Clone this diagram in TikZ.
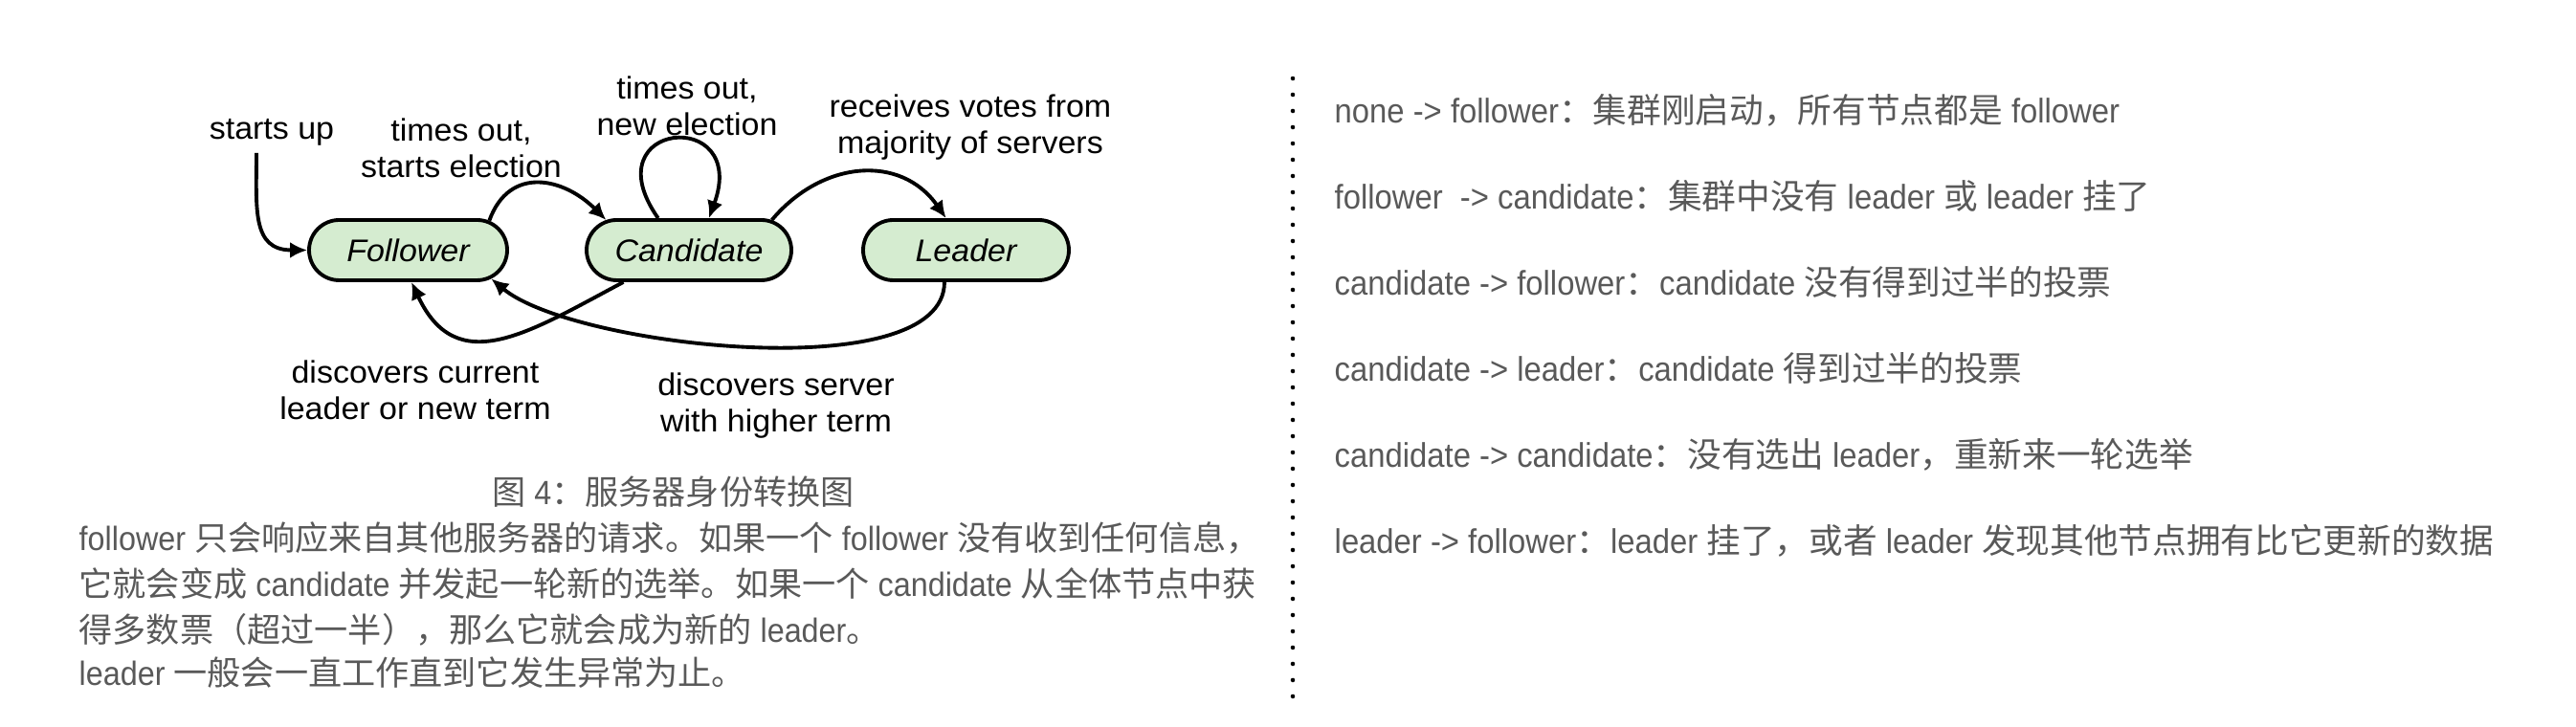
\documentclass[tikz,border=0pt]{standalone}
\usepackage{fontspec}
\setmainfont{Liberation Sans}
\newfontfamily\cjk{Noto Sans CJK SC}
\newfontfamily\diagfont[FakeStretch=1.04]{Liberation Sans}
\newfontfamily\greyfont[FakeStretch=0.92]{Liberation Sans}
\newcommand\zh[1]{{\cjk #1}}
\usetikzlibrary{arrows.meta,shapes.misc}
\definecolor{stategreen}{RGB}{213,236,208}
\definecolor{textgrey}{RGB}{89,89,89}

\begin{document}
\begin{tikzpicture}[
    srv/.style={rounded rectangle, draw, line width=1.1pt, fill=stategreen, minimum height=0.63cm, minimum width=#1, inner sep=0pt, font=\diagfont\itshape\fontsize{9.3}{10.8}\selectfont},
    lbl/.style={align=center, inner sep=0pt, font=\diagfont\fontsize{9.3}{10.8}\selectfont},
    arr/.style={-{Latex[length=0.18cm,width=0.17cm]}, line width=1.1pt},
    para/.style={anchor=base west, inner sep=0pt, text=textgrey, font=\greyfont\fontsize{10}{13}\selectfont},
    rulelist/.style={anchor=base west, inner sep=0pt, text=textgrey, font=\greyfont\fontsize{10.15}{13}\selectfont}]
    \useasboundingbox (0,0) rectangle (26.92,7.6);

    \node[srv=2.07cm] (follower) at (4.265,4.985) {Follower};
    \node[srv=2.14cm] (candidate) at (7.2,4.985) {Candidate};
    \node[srv=2.15cm] (leader) at (10.095,4.985) {Leader};

    \node[lbl] (startsup) at (2.84,6.215) {starts up};
    \node[lbl] (timeout) at (4.82,6.05) {times out,\\starts election};
    \node[lbl] (reelect) at (7.18,6.49) {times out,\\new election};
    \node[lbl] (votes) at (10.14,6.27) {receives votes from\\majority of servers};
    \node[lbl] (stepdown) at (4.34,3.52) {discovers current\\leader or new term};
    \node[lbl] (higher) at (8.11,3.36) {discovers server\\with higher term};

    \coordinate (boot) at (2.68,6.0);
    \draw[arr] (boot) to[out=-90,in=180,looseness=1.3] (follower.west);
    \draw[arr] (follower.20) to[out=70,in=135,looseness=1.3] (candidate.160);
    \draw[arr] (candidate.134) to[out=125,in=70,looseness=6] (candidate.58);
    \draw[arr] (candidate.20) to[out=50,in=125,looseness=1.15] (leader.122);
    \draw[arr] (candidate.206) to[out=208,in=-65,looseness=1.3] (follower.-84);
    \draw[arr] (leader.236) to[out=-90,in=-40,looseness=0.6] (follower.-19);

    \node[para, anchor=base] (caption) at (7.035,2.32) {\zh{图} 4\zh{：服务器身份转换图}};
    \node[para] (par1) at (0.82,1.84) {follower \zh{只会响应来自其他服务器的请求。如果一个} follower \zh{没有收到任何信息，}};
    \node[para] (par2) at (0.82,1.36) {\zh{它就会变成} candidate \zh{并发起一轮新的选举。如果一个} candidate \zh{从全体节点中获}};
    \node[para] (par3) at (0.82,0.88) {\zh{得多数票（超过一半），那么它就会成为新的} leader\zh{。}};
    \node[para] (par4) at (0.82,0.43) {leader \zh{一般会一直工作直到它发生异常为止。}};

    \draw[line width=1.3pt, line cap=round, dash pattern=on 0pt off 0.17cm] (13.51,6.78) -- (13.51,0.3);

    \foreach \t [count=\i] in {
        {none -> follower\zh{：集群刚启动，所有节点都是} follower},
        {follower~ -> candidate\zh{：集群中没有} leader \zh{或} leader \zh{挂了}},
        {candidate -> follower\zh{：}candidate \zh{没有得到过半的投票}},
        {candidate -> leader\zh{：}candidate \zh{得到过半的投票}},
        {candidate -> candidate\zh{：没有选出} leader\zh{，重新来一轮选举}},
        {leader -> follower\zh{：}leader \zh{挂了，或者} leader \zh{发现其他节点拥有比它更新的数据}}}
        \node[rulelist] (rule\i) at (13.94,7.21-0.9*\i) {\t};
\end{tikzpicture}
\end{document}
